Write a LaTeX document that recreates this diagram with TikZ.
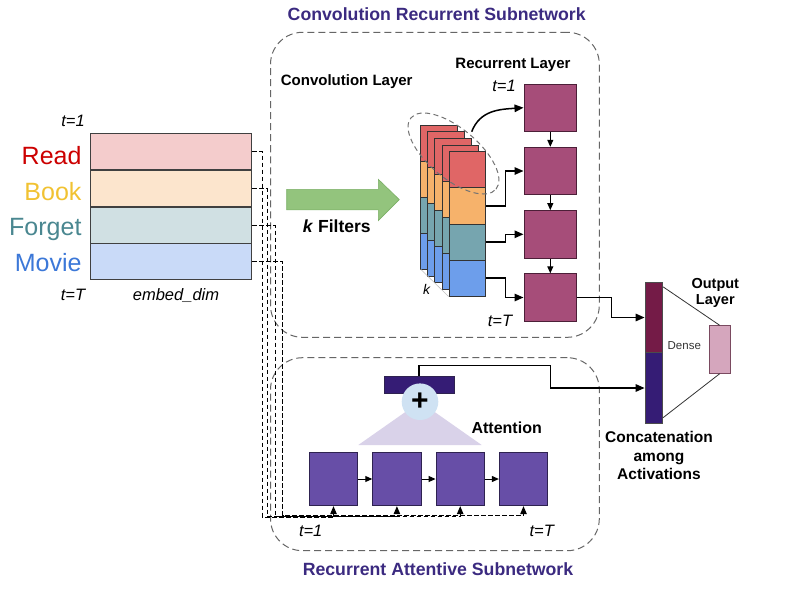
\documentclass[tikz,border=0pt]{standalone}
\usepackage{fontspec}
\setmainfont{Liberation Sans}
\usetikzlibrary{arrows.meta,shapes.geometric}
\definecolor{titlec}{HTML}{3B2A80}
\definecolor{readc}{HTML}{CC0000}
\definecolor{bookc}{HTML}{F1C232}
\definecolor{forgetc}{HTML}{4A8790}
\definecolor{moviec}{HTML}{3C78D8}
\definecolor{readbg}{HTML}{F4CCCC}
\definecolor{bookbg}{HTML}{FCE5CD}
\definecolor{forgetbg}{HTML}{D0E0E3}
\definecolor{moviebg}{HTML}{C9DAF8}
\definecolor{rfill}{HTML}{A64D79}
\definecolor{rborder}{HTML}{4C1F38}
\definecolor{afill}{HTML}{674EA7}
\definecolor{aborder}{HTML}{2E2250}
\definecolor{cred}{HTML}{E06666}
\definecolor{corange}{HTML}{F6B26B}
\definecolor{cteal}{HTML}{76A5AF}
\definecolor{cblue}{HTML}{6D9EEB}
\definecolor{greenarr}{HTML}{93C47D}
\definecolor{greenbd}{HTML}{7BAF66}
\definecolor{cattop}{HTML}{741B47}
\definecolor{catbot}{HTML}{351C75}
\definecolor{outc}{HTML}{D5A6BD}
\definecolor{outbd}{HTML}{7A4A60}
\definecolor{plusc}{HTML}{CFE2F3}
\definecolor{attc}{HTML}{D9D2E9}
\begin{document}
\begin{tikzpicture}[x=1pt,y=-1pt,
 emb/.style={draw=black!75, line width=1.1pt, minimum width=161.5pt, minimum height=36.5pt, inner sep=0pt},
 word/.style={anchor=base east, font=\fontsize{25}{30}\selectfont},
 tlab/.style={font=\fontsize{16.5}{20}\selectfont\itshape, anchor=base},
 title/.style={font=\fontsize{17.7}{21}\selectfont\bfseries, text=titlec},
 lay/.style={font=\fontsize{15}{18}\selectfont\bfseries, anchor=base},
 rbox/.style={draw=rborder, fill=rfill, line width=0.9pt, minimum width=52.7pt, minimum height=47.5pt, inner sep=0pt},
 abox/.style={draw=aborder, fill=afill, line width=0.9pt, minimum width=48.4pt, minimum height=53.4pt, inner sep=0pt},
 con/.style={draw=black, line width=1.5pt, -{Triangle[length=9pt,width=7.5pt]}},
 smallarr/.style={draw=black, line width=1pt, -{Triangle[length=7pt,width=6pt]}},
 feed/.style={draw=black, line width=1pt, dash pattern=on 4.5pt off 2.5pt, -{Triangle[length=8pt,width=6.5pt]}},
 subbox/.style={draw=black!60, line width=1pt, dash pattern=on 7pt off 4pt, rounded corners=32pt, inner sep=0pt},
 cell/.style={draw=black!80, line width=0.8pt, minimum width=36.7pt, minimum height=36.1pt, inner sep=0pt},
 catbox/.style={draw=black!70, line width=0.8pt, minimum width=17.7pt, minimum height=70.5pt, inner sep=0pt},
]
\useasboundingbox (0,0) rectangle (794,589);

% subnetwork boxes
\node[subbox, draw, minimum width=328.8pt, minimum height=305pt] (crs) at (434.9,184.8) {};
\node[subbox, draw, minimum width=328.8pt, minimum height=193pt] (ras) at (434.9,454.2) {};
\node[title] (tcrs) at (436.7,14) {Convolution Recurrent Subnetwork};
\node[title] (tras) at (438,569.5) {Recurrent Attentive Subnetwork};

% embedding
\node[emb, fill=readbg] (read) at (171,151.7) {};
\node[emb, fill=bookbg] (book) at (171,188.5) {};
\node[emb, fill=forgetbg] (forget) at (171,225.3) {};
\node[emb, fill=moviebg] (movie) at (171,261.5) {};
\node[word, text=readc] (wread) at (85,164) {Read};
\node[word, text=bookc] (wbook) at (85,200) {Book};
\node[word, text=forgetc] (wforget) at (85,235.5) {Forget};
\node[word, text=moviec] (wmovie) at (85,271) {Movie};
\node[tlab] (te1) at (73,126.7) {t=1};
\node[tlab] (teT) at (73,300) {t=T};
\node[tlab] (edim) at (176,300) {embed\_dim};

% green arrow
\coordinate (garr) at (286.7,199.6);
\draw[draw=greenbd, fill=greenarr, line width=0.6pt] (garr) ++(0,-10.3) -- ++(91.6,0) -- ++(0,-10) -- ++(21,20.3) -- ++(-21,21) -- ++(0,-10.7) -- ++(-91.6,0) -- cycle;
\node[font=\fontsize{17.5}{21}\selectfont\bfseries] (kf) at (336.7,226.7) {\textit{k} Filters};
\node[lay] (lconv) at (346.7,85) {Convolution Layer};

% feature map stack
\foreach \i in {0,1,2,3} {
  \pgfmathsetmacro{\xx}{420.7+7.07*\i+18.35}
  \pgfmathsetmacro{\yy}{125+6.67*\i}
  \node[cell, fill=cred] at (\xx,\yy+18.05) {};
  \node[cell, fill=corange] at (\xx,\yy+54.15) {};
  \node[cell, fill=cteal] at (\xx,\yy+90.25) {};
  \node[cell, fill=cblue] at (\xx,\yy+126.35) {};
}
\node[cell, fill=cred] (fr) at (467.35,169.75) {};
\node[cell, fill=corange] (fo) at (467.35,205.85) {};
\node[cell, fill=cteal] (ft) at (467.35,241.95) {};
\node[cell, fill=cblue] (fb) at (467.35,278.05) {};
\draw[black!25, line width=0.6pt] (420.7,269.3) -- (fb.south west);
\node[font=\fontsize{14}{17}\selectfont\itshape] (klab) at (426.7,289.3) {k};
\node[ellipse, draw=black!55, dash pattern=on 5pt off 3.5pt, line width=1pt, minimum width=111pt, minimum height=50pt, inner sep=0pt, rotate=-40] (ell) at (453.5,153.5) {};

% recurrent layer
\node[lay] (lrec) at (513,68.3) {Recurrent Layer};
\node[tlab] (tr1) at (504,91.7) {t=1};
\node[tlab] (trT) at (500,326.7) {t=T};
\node[rbox] (r1) at (550.3,107.7) {};
\node[rbox] (r2) at (550.3,171) {};
\node[rbox] (r3) at (550.3,234.3) {};
\node[rbox] (r4) at (550.3,297.5) {};
\draw[smallarr] (r1.south) -- (r2.north);
\draw[smallarr] (r2.south) -- (r3.north);
\draw[smallarr] (r3.south) -- (r4.north);
\coordinate (ellp) at (471.7,131.7);
\draw[con] (ellp) .. controls (480,110) and (500,109.3) .. (r1.west);
\draw[con] (fo.east) -- ++(19.3,0) |- (r2.west);
\draw[con] (ft.east) -- ++(19.3,0) |- (r3.west);
\draw[con] (fb.east) -- ++(19.3,0) |- (r4.west);

% concatenation and output
\node[catbox, fill=cattop] (ct) at (653.85,317.5) {};
\node[catbox, fill=catbot] (cb) at (653.85,388) {};
\node[draw=outbd, fill=outc, line width=0.8pt, minimum width=20.7pt, minimum height=47.6pt, inner sep=0pt] (out) at (719.7,349.5) {};
\draw[black!80, line width=0.8pt] ([yshift=-5pt]ct.north east) -- (out.north);
\draw[black!80, line width=0.8pt] ([yshift=6pt]cb.south east) -- (out.south);
\node[font=\fontsize{11.5}{14}\selectfont, text=black!80] (dense) at (684.3,346) {Dense};
\node[font=\fontsize{14.5}{16}\selectfont\bfseries, align=center] (outl) at (715.3,293.3) {Output\\Layer};
\node[font=\fontsize{15.5}{18.6}\selectfont\bfseries, align=center] (catl) at (659,455.5) {Concatenation\\among\\Activations};
\draw[con] (r4.east) -- ++(34.6,0) |- (ct.west);

% attention
\node[draw=aborder, fill=catbot, line width=0.6pt, minimum width=70.3pt, minimum height=17.3pt, inner sep=0pt] (bar) at (419.2,384.7) {};
\coordinate (apex) at (420,401.7);
\fill[attc] (358.3,445) -- (481.7,445) -- (apex) -- cycle;
\node[circle, fill=plusc, minimum size=36.6pt, inner sep=0pt, font=\fontsize{30}{30}\selectfont\bfseries] (plus) at (apex) {+};
\node[font=\fontsize{16}{19}\selectfont\bfseries, anchor=base] (attl) at (506.7,433.3) {Attention};
\draw[con] (bar.north) |- (550.7,365.7) |- (cb.west);
\node[abox] (a1) at (333.5,479) {};
\node[abox] (a2) at (396.9,479) {};
\node[abox] (a3) at (460.2,479) {};
\node[abox] (a4) at (523.5,479) {};
\draw[smallarr] (a1.east) -- (a2.west);
\draw[smallarr] (a2.east) -- (a3.west);
\draw[smallarr] (a3.east) -- (a4.west);
\node[tlab] (ta1) at (310.7,536.7) {t=1};
\node[tlab] (taT) at (541.7,536.7) {t=T};

% feeds from embeddings
\draw[feed] (read.east) -| (262.3,517) -| (a1.south);
\draw[feed] (book.east) -| (267.3,516.5) -| (a2.south);
\draw[feed] (forget.east) -| (275,516) -| (a3.south);
\draw[feed] (movie.east) -| (282.7,515.5) -| (a4.south);
\end{tikzpicture}
\end{document}
